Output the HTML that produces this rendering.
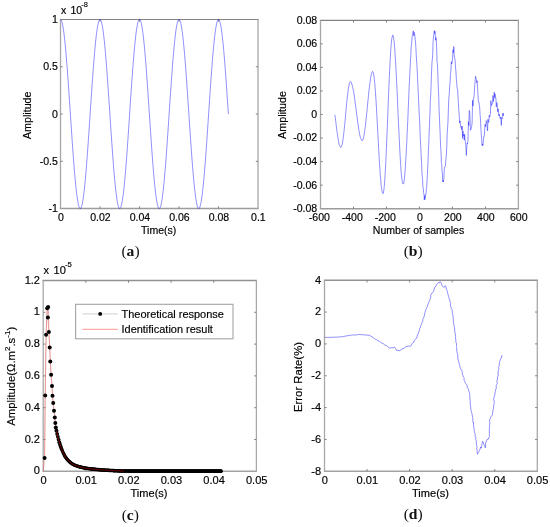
<!DOCTYPE html>
<html lang="en"><head><meta charset="utf-8"><title>Figure</title>
<style>html,body{margin:0;padding:0;background:#fff}body{width:550px;height:527px;overflow:hidden}svg text{font-family:"Liberation Sans",sans-serif;stroke:#000;stroke-width:0.16px}svg text.cap{font-family:"Liberation Serif",serif;stroke:none}</style>
</head><body>
<svg width="550" height="527" viewBox="0 0 550 527" font-family="Liberation Sans, Arial, sans-serif" fill="#000" style="display:block">
<path d="M59.85 19.5 H258.65" stroke="#828282" stroke-width="1.2"/><path d="M59.85 208.6 H258.65" stroke="#9c9c9c" stroke-width="1.5"/><path d="M60.5 19.5 V208.6" stroke="#a6a6a6" stroke-width="1.3"/><path d="M258 19.5 V208.6" stroke="#a6a6a6" stroke-width="1.3"/><path d="M100 19.5 v2.2 M139.5 19.5 v2.2 M179 19.5 v2.2 M218.5 19.5 v2.2 " stroke="#808080" stroke-width="1" fill="none"/><path d="M100 208.6 v-2.2 M139.5 208.6 v-2.2 M179 208.6 v-2.2 M218.5 208.6 v-2.2 " stroke="#808080" stroke-width="1" fill="none"/><path d="M60.5 66.78 h2.2 M60.5 114.05 h2.2 M60.5 161.32 h2.2 " stroke="#808080" stroke-width="1" fill="none"/><path d="M258 66.78 h-2.2 M258 114.05 h-2.2 M258 161.32 h-2.2 " stroke="#808080" stroke-width="1" fill="none"/>
<path d="M60.5 19.5 L60.92 19.71 L61.34 20.35 L61.76 21.4 L62.18 22.87 L62.6 24.74 L63.02 27.02 L63.45 29.69 L63.87 32.73 L64.29 36.14 L64.71 39.9 L65.13 43.99 L65.55 48.39 L65.97 53.08 L66.39 58.05 L66.81 63.27 L67.23 68.72 L67.65 74.37 L68.07 80.2 L68.49 86.18 L68.91 92.29 L69.34 98.49 L69.76 104.76 L70.18 111.07 L70.6 117.4 L71.02 123.71 L71.44 129.98 L71.86 136.18 L72.28 142.27 L72.7 148.25 L73.12 154.06 L73.54 159.7 L73.96 165.14 L74.38 170.35 L74.81 175.3 L75.23 179.98 L75.65 184.36 L76.07 188.43 L76.49 192.17 L76.91 195.56 L77.33 198.58 L77.75 201.22 L78.17 203.48 L78.59 205.33 L79.01 206.77 L79.43 207.8 L79.85 208.41 L80.27 208.6 L80.7 208.36 L81.12 207.7 L81.54 206.63 L81.96 205.13 L82.38 203.23 L82.8 200.93 L83.22 198.24 L83.64 195.18 L84.06 191.75 L84.48 187.97 L84.9 183.86 L85.32 179.44 L85.74 174.73 L86.17 169.75 L86.59 164.51 L87.01 159.05 L87.43 153.39 L87.85 147.55 L88.27 141.56 L88.69 135.45 L89.11 129.25 L89.53 122.97 L89.95 116.66 L90.37 110.33 L90.79 104.02 L91.21 97.75 L91.63 91.56 L92.06 85.47 L92.48 79.51 L92.9 73.7 L93.32 68.07 L93.74 62.65 L94.16 57.46 L94.58 52.52 L95 47.85 L95.42 43.49 L95.84 39.44 L96.26 35.72 L96.68 32.35 L97.1 29.35 L97.53 26.73 L97.95 24.5 L98.37 22.67 L98.79 21.25 L99.21 20.25 L99.63 19.66 L100.05 19.5 L100.47 19.76 L100.89 20.45 L101.31 21.55 L101.73 23.07 L102.15 24.99 L102.57 27.31 L102.99 30.03 L103.42 33.11 L103.84 36.56 L104.26 40.36 L104.68 44.49 L105.1 48.93 L105.52 53.66 L105.94 58.66 L106.36 63.9 L106.78 69.38 L107.2 75.05 L107.62 80.9 L108.04 86.89 L108.46 93.01 L108.89 99.22 L109.31 105.5 L109.73 111.82 L110.15 118.14 L110.57 124.45 L110.99 130.71 L111.41 136.9 L111.83 142.98 L112.25 148.94 L112.67 154.74 L113.09 160.35 L113.51 165.76 L113.93 170.94 L114.35 175.86 L114.78 180.51 L115.2 184.86 L115.62 188.89 L116.04 192.59 L116.46 195.93 L116.88 198.91 L117.3 201.51 L117.72 203.72 L118.14 205.52 L118.56 206.92 L118.98 207.9 L119.4 208.46 L119.82 208.59 L120.24 208.31 L120.67 207.6 L121.09 206.47 L121.51 204.93 L121.93 202.98 L122.35 200.64 L122.77 197.9 L123.19 194.79 L123.61 191.32 L124.03 187.51 L124.45 183.36 L124.87 178.9 L125.29 174.16 L125.71 169.14 L126.14 163.88 L126.56 158.39 L126.98 152.71 L127.4 146.85 L127.82 140.85 L128.24 134.73 L128.66 128.51 L129.08 122.23 L129.5 115.91 L129.92 109.58 L130.34 103.28 L130.76 97.02 L131.18 90.84 L131.6 84.76 L132.03 78.82 L132.45 73.03 L132.87 67.42 L133.29 62.02 L133.71 56.86 L134.13 51.95 L134.55 47.32 L134.97 42.99 L135.39 38.98 L135.81 35.31 L136.23 31.98 L136.65 29.03 L137.07 26.45 L137.5 24.27 L137.92 22.49 L138.34 21.11 L138.76 20.16 L139.18 19.62 L139.6 19.51 L140.02 19.82 L140.44 20.56 L140.86 21.71 L141.28 23.27 L141.7 25.24 L142.12 27.61 L142.54 30.37 L142.96 33.5 L143.39 36.99 L143.81 40.83 L144.23 44.99 L144.65 49.47 L145.07 54.23 L145.49 59.26 L145.91 64.54 L146.33 70.03 L146.75 75.73 L147.17 81.6 L147.59 87.61 L148.01 93.74 L148.43 99.96 L148.86 106.24 L149.28 112.56 L149.7 118.89 L150.12 125.19 L150.54 131.45 L150.96 137.62 L151.38 143.69 L151.8 149.63 L152.22 155.41 L152.64 161 L153.06 166.39 L153.48 171.53 L153.9 176.43 L154.32 181.04 L154.75 185.35 L155.17 189.34 L155.59 193 L156.01 196.3 L156.43 199.24 L156.85 201.79 L157.27 203.95 L157.69 205.71 L158.11 207.05 L158.53 207.98 L158.95 208.49 L159.37 208.58 L159.79 208.25 L160.22 207.49 L160.64 206.31 L161.06 204.72 L161.48 202.73 L161.9 200.33 L162.32 197.56 L162.74 194.4 L163.16 190.89 L163.58 187.03 L164 182.85 L164.42 178.36 L164.84 173.58 L165.26 168.54 L165.68 163.25 L166.11 157.74 L166.53 152.03 L166.95 146.15 L167.37 140.14 L167.79 134 L168.21 127.77 L168.63 121.49 L169.05 115.17 L169.47 108.84 L169.89 102.54 L170.31 96.29 L170.73 90.12 L171.15 84.05 L171.58 78.13 L172 72.36 L172.42 66.77 L172.84 61.4 L173.26 56.27 L173.68 51.39 L174.1 46.8 L174.52 42.51 L174.94 38.53 L175.36 34.9 L175.78 31.61 L176.2 28.7 L176.62 26.17 L177.04 24.04 L177.47 22.3 L177.89 20.98 L178.31 20.07 L178.73 19.59 L179.15 19.53 L179.57 19.89 L179.99 20.67 L180.41 21.87 L180.83 23.48 L181.25 25.5 L181.67 27.92 L182.09 30.72 L182.51 33.89 L182.94 37.43 L183.36 41.3 L183.78 45.5 L184.2 50.01 L184.62 54.81 L185.04 59.87 L185.46 65.17 L185.88 70.69 L186.3 76.41 L186.72 82.3 L187.14 88.32 L187.56 94.46 L187.98 100.69 L188.4 106.98 L188.83 113.31 L189.25 119.63 L189.67 125.93 L190.09 132.18 L190.51 138.34 L190.93 144.4 L191.35 150.32 L191.77 156.08 L192.19 161.65 L192.61 167 L193.03 172.12 L193.45 176.98 L193.87 181.56 L194.3 185.84 L194.72 189.79 L195.14 193.41 L195.56 196.67 L195.98 199.56 L196.4 202.06 L196.82 204.18 L197.24 205.89 L197.66 207.19 L198.08 208.07 L198.5 208.53 L198.92 208.56 L199.34 208.18 L199.76 207.37 L200.19 206.15 L200.61 204.51 L201.03 202.47 L201.45 200.03 L201.87 197.2 L202.29 194.01 L202.71 190.45 L203.13 186.56 L203.55 182.34 L203.97 177.81 L204.39 173 L204.81 167.93 L205.23 162.61 L205.66 157.07 L206.08 151.35 L206.5 145.45 L206.92 139.42 L207.34 133.27 L207.76 127.04 L208.18 120.74 L208.6 114.42 L209.02 108.1 L209.44 101.8 L209.86 95.56 L210.28 89.4 L210.7 83.35 L211.12 77.44 L211.55 71.69 L211.97 66.13 L212.39 60.79 L212.81 55.68 L213.23 50.84 L213.65 46.28 L214.07 42.02 L214.49 38.09 L214.91 34.49 L215.33 31.25 L215.75 28.38 L216.17 25.9 L216.59 23.81 L217.02 22.13 L217.44 20.85 L217.86 19.99 L218.28 19.56 L218.7 19.55 L219.12 19.96 L219.54 20.79 L219.96 22.04 L220.38 23.7 L220.8 25.77 L221.22 28.23 L221.64 31.07 L222.06 34.29 L222.48 37.86 L222.91 41.78 L223.33 46.02 L223.75 50.56 L224.17 55.39 L224.59 60.48 L225.01 65.81 L225.43 71.36 L225.85 77.09 L226.27 83 L226.69 89.04 L227.11 95.19 L227.53 101.43 L227.95 107.73 L228.38 114.05" fill="none" stroke="#2020ff" stroke-width="0.5"/>
<text transform="translate(60.9 220.8) scale(1.04 1)" text-anchor="middle" font-size="10.15" >0</text>
<text transform="translate(100.4 220.8) scale(1.04 1)" text-anchor="middle" font-size="10.15" >0.02</text>
<text transform="translate(139.9 220.8) scale(1.04 1)" text-anchor="middle" font-size="10.15" >0.04</text>
<text transform="translate(179.4 220.8) scale(1.04 1)" text-anchor="middle" font-size="10.15" >0.06</text>
<text transform="translate(218.9 220.8) scale(1.04 1)" text-anchor="middle" font-size="10.15" >0.08</text>
<text transform="translate(258.4 220.8) scale(1.04 1)" text-anchor="middle" font-size="10.15" >0.1</text>
<text transform="translate(57.8 23) scale(1.04 1)" text-anchor="end" font-size="10.15" >1</text>
<text transform="translate(57.8 70.28) scale(1.04 1)" text-anchor="end" font-size="10.15" >0.5</text>
<text transform="translate(57.8 117.55) scale(1.04 1)" text-anchor="end" font-size="10.15" >0</text>
<text transform="translate(57.8 164.82) scale(1.04 1)" text-anchor="end" font-size="10.15" >-0.5</text>
<text transform="translate(57.8 212.1) scale(1.04 1)" text-anchor="end" font-size="10.15" >-1</text>
<text transform="translate(60.9 13.8) scale(1.04 1)" text-anchor="start" font-size="10.15" >x</text>
<text transform="translate(70.4 13.8) scale(1.04 1)" text-anchor="start" font-size="10.15" >10</text>
<text transform="translate(81.3 7) scale(1.04 1)" text-anchor="start" font-size="7.09" >-8</text>
<text transform="translate(158.7 234) scale(1.04 1)" text-anchor="middle" font-size="10.15" >Time(s)</text>
<text transform="translate(31 115.3) rotate(-90) scale(1.04 1)" text-anchor="middle" font-size="10.34">Amplitude</text>
<path d="M319.85 20.3 H519.05" stroke="#828282" stroke-width="1.2"/><path d="M319.85 208.7 H519.05" stroke="#9c9c9c" stroke-width="1.5"/><path d="M320.5 20.3 V208.7" stroke="#a6a6a6" stroke-width="1.3"/><path d="M518.4 20.3 V208.7" stroke="#a6a6a6" stroke-width="1.3"/><path d="M353.48 20.3 v2.2 M386.47 20.3 v2.2 M419.45 20.3 v2.2 M452.43 20.3 v2.2 M485.42 20.3 v2.2 " stroke="#808080" stroke-width="1" fill="none"/><path d="M353.48 208.7 v-2.2 M386.47 208.7 v-2.2 M419.45 208.7 v-2.2 M452.43 208.7 v-2.2 M485.42 208.7 v-2.2 " stroke="#808080" stroke-width="1" fill="none"/><path d="M320.5 43.85 h2.2 M320.5 67.4 h2.2 M320.5 90.95 h2.2 M320.5 114.5 h2.2 M320.5 138.05 h2.2 M320.5 161.6 h2.2 M320.5 185.15 h2.2 " stroke="#808080" stroke-width="1" fill="none"/><path d="M518.4 43.85 h-2.2 M518.4 67.4 h-2.2 M518.4 90.95 h-2.2 M518.4 114.5 h-2.2 M518.4 138.05 h-2.2 M518.4 161.6 h-2.2 M518.4 185.15 h-2.2 " stroke="#808080" stroke-width="1" fill="none"/>
<path d="M334.9 114.76 L335.23 117.35 L335.57 120.13 L335.9 122.54 L336.23 125.6 L336.57 128.23 L336.9 130.81 L337.23 133.15 L337.57 135.53 L337.9 137.57 L338.23 139.34 L338.57 141.74 L338.9 143.07 L339.23 144.56 L339.57 145.33 L339.9 146.1 L340.23 146.69 L340.57 146.87 L340.9 147.5 L341.24 146.87 L341.58 146.24 L341.92 145.42 L342.26 144.35 L342.6 142.33 L342.94 139.95 L343.27 137.57 L343.61 135.09 L343.95 131.94 L344.29 128.61 L344.63 125.32 L344.97 121.99 L345.31 118.61 L345.65 114.3 L345.99 110.76 L346.33 107.1 L346.67 103.25 L347.01 100.16 L347.35 96.92 L347.69 94.36 L348.02 91.37 L348.36 88.23 L348.7 86.95 L349.04 84.97 L349.38 83.29 L349.72 82.5 L350.06 81.89 L350.4 81.63 L350.74 81.92 L351.07 81.82 L351.41 82.8 L351.75 84.12 L352.09 84.88 L352.42 86.18 L352.76 87.63 L353.1 89.34 L353.43 90.64 L353.77 93.02 L354.11 94.16 L354.45 97.12 L354.78 99.23 L355.12 102.54 L355.46 104.89 L355.79 107.17 L356.13 110.19 L356.47 112.17 L356.81 115.12 L357.14 117.71 L357.48 120.01 L357.82 122.77 L358.15 125.45 L358.49 127.11 L358.83 129.63 L359.17 131.4 L359.5 133.61 L359.84 134.99 L360.18 136.64 L360.51 137.72 L360.85 138.68 L361.19 139.16 L361.53 140.31 L361.86 140.11 L362.2 140.55 L362.54 140.45 L362.88 139.63 L363.22 138.98 L363.55 137.94 L363.89 136.16 L364.23 134.14 L364.57 131.59 L364.91 129.34 L365.25 127 L365.59 124.15 L365.93 121 L366.26 118.06 L366.6 114.53 L366.94 111.2 L367.28 107.88 L367.62 104.08 L367.96 100.72 L368.3 97.78 L368.64 94.19 L368.97 90.55 L369.31 87.73 L369.65 85 L369.99 82.48 L370.33 79.85 L370.67 77.45 L371.01 75.69 L371.35 74.42 L371.68 73.14 L372.02 72.1 L372.36 71.64 L372.7 71.42 L373.04 71.98 L373.38 72.7 L373.72 74.7 L374.06 76.95 L374.4 79.89 L374.74 82.79 L375.08 87.45 L375.42 91.56 L375.76 96.75 L376.1 101.87 L376.44 107.37 L376.78 113.73 L377.12 119.91 L377.46 126.15 L377.8 132.61 L378.14 138.8 L378.48 145.1 L378.82 151.38 L379.16 157.76 L379.5 163.24 L379.84 168.33 L380.18 173.51 L380.52 177.82 L380.86 181.74 L381.2 185.59 L381.54 188.22 L381.88 190.28 L382.22 192.08 L382.56 193.28 L382.9 193.63 L383.24 193.38 L383.58 191.61 L383.91 189.61 L384.25 186.48 L384.59 182.25 L384.93 177.65 L385.27 172.04 L385.6 165.55 L385.94 159.13 L386.28 151.32 L386.62 143.82 L386.96 135.7 L387.29 127.43 L387.63 118.67 L387.97 110.26 L388.31 101.73 L388.64 93.63 L388.98 84.88 L389.32 77.54 L389.66 70.12 L390 62.66 L390.33 57.84 L390.67 51.6 L391.01 46.42 L391.35 43.64 L391.69 39.34 L392.02 37.45 L392.36 36.21 L392.7 35.08 L393.04 35.75 L393.37 36.86 L393.71 38.87 L394.04 41.01 L394.38 43.96 L394.71 48.76 L395.05 53.76 L395.38 58.81 L395.72 64.9 L396.05 71.01 L396.39 76.87 L396.73 83.92 L397.06 90.38 L397.4 98.14 L397.73 105.6 L398.07 113.62 L398.4 121.25 L398.74 128.13 L399.07 135.29 L399.41 141.8 L399.75 148.97 L400.08 155.31 L400.42 161.1 L400.75 165.74 L401.09 171.6 L401.42 175.23 L401.76 177.94 L402.09 180.04 L402.43 182.32 L402.76 183.78 L403.1 183.99 L403.44 183.85 L403.77 183.31 L404.11 181.21 L404.44 178.4 L404.78 174.24 L405.11 170.48 L405.45 165.29 L405.78 159.82 L406.12 155.37 L406.45 147.63 L406.79 142.29 L407.13 133.76 L407.46 126.72 L407.8 120.44 L408.13 111.27 L408.47 103.72 L408.8 95.59 L409.14 87.45 L409.47 80.62 L409.81 73.16 L410.15 67.92 L410.48 60.32 L410.82 55.75 L411.15 47.29 L411.49 44.45 L411.82 40.74 L412.16 36.7 L412.49 35.03 L412.83 32.75 L413.16 30.88 L413.5 31.04 L413.84 35.91 L414.18 32.32 L414.51 34.12 L414.85 35.54 L415.19 39.69 L415.53 42.12 L415.87 47.38 L416.21 54.56 L416.54 59.94 L416.88 64.4 L417.22 71.17 L417.56 78.6 L417.9 85.15 L418.24 93.17 L418.57 99.76 L418.91 106.56 L419.25 115.72 L419.59 119.55 L419.93 128.87 L420.26 137.18 L420.6 143.33 L420.94 151.12 L421.28 157.36 L421.62 163.69 L421.96 173.07 L422.29 176.38 L422.63 180.53 L422.97 188.07 L423.31 188.5 L423.65 192.82 L423.99 194.7 L424.32 200.02 L424.66 195.56 L425 199.39 L425.33 197.16 L425.67 194.25 L426 194.41 L426.34 188.86 L426.67 187.6 L427.01 181.29 L427.34 175.73 L427.68 168.51 L428.01 162.4 L428.34 151.34 L428.68 145.63 L429.01 136.28 L429.35 128.71 L429.68 119.41 L430.02 112.28 L430.35 99.26 L430.69 95.34 L431.02 87.53 L431.36 76.08 L431.69 68.66 L432.02 61.98 L432.36 58.92 L432.69 55.09 L433.03 42.63 L433.36 38.22 L433.7 35.31 L434.03 32.84 L434.37 30.62 L434.7 33.66 L435.03 31.34 L435.37 36.87 L435.7 40.28 L436.04 37.58 L436.37 42.17 L436.71 50.18 L437.04 62.16 L437.38 63.15 L437.71 69.78 L438.05 80.09 L438.38 90.09 L438.72 96.53 L439.05 109.1 L439.38 115.81 L439.72 124.95 L440.05 131.33 L440.39 140.74 L440.72 148.28 L441.06 151.75 L441.39 162.38 L441.73 164.34 L442.06 171.97 L442.4 173.14 L442.73 181.87 L443.07 180.53 L443.4 182.02 L443.82 179.46 L444.23 169.49 L444.65 167.16 L445.07 167 L445.48 165.25 L445.9 159.17 L446.32 155.04 L446.73 147.96 L447.15 134.12 L447.57 127.81 L447.98 122.15 L448.4 109.17 L448.82 98.36 L449.23 94.36 L449.65 86.95 L450.07 82.63 L450.48 74.36 L450.9 71.36 L451.32 61.62 L451.73 63.96 L452.15 62.2 L452.57 58.39 L452.98 49.81 L453.4 52.69 L453.82 46.56 L454.23 56.12 L454.65 58.2 L455.07 59.62 L455.48 66.9 L455.9 71.13 L456.32 78.41 L456.73 82.48 L457.15 88.66 L457.57 89.07 L457.98 96.1 L458.4 103.17 L458.82 110.45 L459.23 114.85 L459.65 122.99 L460.07 120.84 L460.48 124.75 L460.9 127.36 L461.32 126.51 L461.73 129.85 L462.15 126.26 L462.57 138.27 L462.98 130.75 L463.4 135.84 L463.82 134.35 L464.23 140.08 L464.65 134.37 L465.07 141.27 L465.48 141.44 L465.9 146.32 L466.32 155.45 L466.73 147.63 L467.15 143.07 L467.57 143.88 L467.98 140.28 L468.4 121.69 L468.82 125.69 L469.23 110.34 L469.65 111.72 L470.07 119.99 L470.48 130.33 L470.9 129.15 L471.32 127.89 L471.73 126.33 L472.15 122.08 L472.57 100.39 L472.98 106.07 L473.4 100.05 L473.82 97.34 L474.23 95.14 L474.65 87.15 L475.07 81.83 L475.48 76.26 L475.9 77.43 L476.32 79.34 L476.73 82.74 L477.15 80.8 L477.57 88.23 L477.98 94.54 L478.4 101.74 L478.82 101.92 L479.23 104.59 L479.65 106.98 L480.07 114.93 L480.48 118.98 L480.9 128.4 L481.32 135.17 L481.73 140.07 L482.15 145.84 L482.57 143.95 L482.98 145.33 L483.4 139.57 L483.82 136.22 L484.23 136.36 L484.65 130.98 L485.07 124.3 L485.48 126.77 L485.9 124.03 L486.32 120.57 L486.73 121.18 L487.15 127.61 L487.57 130.83 L487.98 119.2 L488.4 122.41 L488.82 122.17 L489.23 115.27 L489.65 117.14 L490.07 115.45 L490.48 113.55 L490.9 100.68 L491.32 105.34 L491.73 105.62 L492.15 103.38 L492.57 103.14 L492.98 95.54 L493.4 101.53 L493.82 97.77 L494.23 92.09 L494.65 97.48 L495.07 93.88 L495.48 98.19 L495.9 97.97 L496.32 106.88 L496.73 102.61 L497.15 103.32 L497.57 111.71 L497.98 108.92 L498.4 109.09 L498.82 115.85 L499.23 114.19 L499.65 116.22 L500.07 118.56 L500.48 117.23 L500.9 119.59 L501.32 125.49 L501.73 117.55 L502.15 118.77 L502.57 114.15 L502.98 113.19 L503.4 115.84 L503.5 113.43" fill="none" stroke="#2020ff" stroke-width="0.5" stroke-linejoin="round"/>
<text transform="translate(319.3 220.8) scale(1.04 1)" text-anchor="middle" font-size="10.15" >-600</text>
<text transform="translate(352.28 220.8) scale(1.04 1)" text-anchor="middle" font-size="10.15" >-400</text>
<text transform="translate(385.27 220.8) scale(1.04 1)" text-anchor="middle" font-size="10.15" >-200</text>
<text transform="translate(419.85 220.8) scale(1.04 1)" text-anchor="middle" font-size="10.15" >0</text>
<text transform="translate(452.83 220.8) scale(1.04 1)" text-anchor="middle" font-size="10.15" >200</text>
<text transform="translate(485.82 220.8) scale(1.04 1)" text-anchor="middle" font-size="10.15" >400</text>
<text transform="translate(518.8 220.8) scale(1.04 1)" text-anchor="middle" font-size="10.15" >600</text>
<text transform="translate(317.2 23.7) scale(1.04 1)" text-anchor="end" font-size="10.15" >0.08</text>
<text transform="translate(317.2 47.25) scale(1.04 1)" text-anchor="end" font-size="10.15" >0.06</text>
<text transform="translate(317.2 70.8) scale(1.04 1)" text-anchor="end" font-size="10.15" >0.04</text>
<text transform="translate(317.2 94.35) scale(1.04 1)" text-anchor="end" font-size="10.15" >0.02</text>
<text transform="translate(317.2 117.9) scale(1.04 1)" text-anchor="end" font-size="10.15" >0</text>
<text transform="translate(317.2 141.45) scale(1.04 1)" text-anchor="end" font-size="10.15" >-0.02</text>
<text transform="translate(317.2 165) scale(1.04 1)" text-anchor="end" font-size="10.15" >-0.04</text>
<text transform="translate(317.2 188.55) scale(1.04 1)" text-anchor="end" font-size="10.15" >-0.06</text>
<text transform="translate(317.2 212.1) scale(1.04 1)" text-anchor="end" font-size="10.15" >-0.08</text>
<text transform="translate(418.5 234) scale(1.04 1)" text-anchor="middle" font-size="10.15" >Number of samples</text>
<text transform="translate(285.8 115) rotate(-90) scale(1.04 1)" text-anchor="middle" font-size="10.34">Amplitude</text>
<path d="M42.55 280.5 H257.05" stroke="#929292" stroke-width="1.4"/><path d="M42.55 471.3 H257.05" stroke="#a2a2a2" stroke-width="1.5"/><path d="M43.2 280.5 V471.3" stroke="#a8a8a8" stroke-width="1.3"/><path d="M256.4 280.5 V471.3" stroke="#a8a8a8" stroke-width="1.3"/><path d="M85.84 280.5 v2.2 M128.48 280.5 v2.2 M171.12 280.5 v2.2 M213.76 280.5 v2.2 " stroke="#808080" stroke-width="1" fill="none"/><path d="M85.84 471.3 v-2.2 M128.48 471.3 v-2.2 M171.12 471.3 v-2.2 M213.76 471.3 v-2.2 " stroke="#808080" stroke-width="1" fill="none"/><path d="M43.2 312.3 h2.2 M43.2 344.1 h2.2 M43.2 375.9 h2.2 M43.2 407.7 h2.2 M43.2 439.5 h2.2 " stroke="#808080" stroke-width="1" fill="none"/><path d="M256.4 312.3 h-2.2 M256.4 344.1 h-2.2 M256.4 375.9 h-2.2 M256.4 407.7 h-2.2 M256.4 439.5 h-2.2 " stroke="#808080" stroke-width="1" fill="none"/>
<g id="c-plot">
<path d="M44.6 458.1 L45.2 395.6 L46.1 334.8 L47.2 308.3 L48.15 306.9 L47.9 317.6 L48.9 332 L49.7 347.4 L50.3 361.6 L51.1 374.7 L52 385.9 L52.5 395.7 L53.2 403 L54 410.7 L54.8 417.6 L55.3 423 L55.8 427.6 L56.45 430.73 L57.16 433.91 L57.87 436.83 L58.58 439.61 L59.29 442.19 L60 444.5 L60.71 446.58 L61.42 448.53 L62.13 450.33 L62.84 451.99 L63.55 453.5 L64.26 454.89 L64.97 456.17 L65.68 457.33 L66.39 458.35 L67.1 459.26 L67.81 460.08 L68.52 460.84 L69.23 461.52 L69.94 462.15 L70.65 462.73 L71.36 463.27 L72.07 463.76 L72.78 464.21 L73.49 464.59 L74.2 464.93 L74.91 465.24 L75.62 465.51 L76.33 465.77 L77.04 466.01 L77.75 466.25 L78.46 466.47 L79.17 466.68 L79.88 466.88 L80.59 467.07 L81.3 467.25 L82.01 467.42 L82.72 467.58 L83.43 467.74 L84.14 467.89 L84.85 468.03 L85.56 468.16 L86.27 468.28 L86.98 468.39 L87.69 468.49 L88.4 468.58 L89.11 468.67 L89.82 468.76 L90.53 468.84 L91.24 468.92 L91.95 468.99 L92.66 469.07 L93.37 469.14 L94.08 469.21 L94.79 469.28 L95.5 469.35 L96.21 469.42 L96.92 469.48 L97.63 469.55 L98.34 469.61 L99.05 469.67 L99.76 469.74 L100.47 469.79 L101.18 469.85 L101.89 469.91 L102.6 469.96 L103.31 470.02 L104.02 470.07 L104.73 470.12 L105.44 470.16 L106.15 470.21 L106.86 470.26 L107.57 470.3 L108.28 470.34 L108.99 470.39 L109.7 470.43 L110.41 470.47 L111.12 470.5 L111.83 470.54 L112.54 470.58 L113.25 470.61 L113.96 470.65 L114.67 470.68 L115.38 470.72 L116.09 470.75 L116.8 470.79 L117.51 470.82 L118.22 470.85 L118.93 470.88 L119.64 470.91 L120.35 470.94 L121.06 470.96 L121.77 470.98 L122.48 471 L123.19 471.01 L123.9 471.02 L124.61 471.04 L125.32 471.05 L126.03 471.06 L126.74 471.07 L127.45 471.08 L128.16 471.09 L128.87 471.1 L129.58 471.11 L130.29 471.12 L131 471.13 L131.71 471.14 L132.42 471.14 L133.13 471.15 L133.84 471.15 L134.55 471.15 L135.26 471.15 L135.97 471.15 L136.68 471.15 L137.39 471.15 L138.1 471.15 L138.81 471.15 L139.52 471.15 L140.23 471.15 L140.94 471.15 L141.65 471.15 L142.36 471.15 L143.07 471.15 L143.78 471.15 L144.49 471.15 L145.2 471.15 L145.91 471.15 L146.62 471.15 L147.33 471.15 L148.04 471.15 L148.75 471.15 L149.46 471.15 L150.17 471.15 L150.88 471.15 L151.59 471.15 L152.3 471.15 L153.01 471.15 L153.72 471.15 L154.43 471.15 L155.14 471.15 L155.85 471.15 L156.56 471.15 L157.27 471.15 L157.98 471.15 L158.69 471.15 L159.4 471.15 L160.11 471.15 L160.82 471.15 L161.53 471.15 L162.24 471.15 L162.95 471.15 L163.66 471.15 L164.37 471.15 L165.08 471.15 L165.79 471.15 L166.5 471.15 L167.21 471.15 L167.92 471.15 L168.63 471.15 L169.34 471.15 L170.05 471.15 L170.76 471.15 L171.47 471.15 L172.18 471.15 L172.89 471.15 L173.6 471.15 L174.31 471.15 L175.02 471.15 L175.73 471.15 L176.44 471.15 L177.15 471.15 L177.86 471.15 L178.57 471.15 L179.28 471.15 L179.99 471.15 L180.7 471.15 L181.41 471.15 L182.12 471.15 L182.83 471.15 L183.54 471.15 L184.25 471.15 L184.96 471.15 L185.67 471.15 L186.38 471.15 L187.09 471.15 L187.8 471.15 L188.51 471.15 L189.22 471.15 L189.93 471.15 L190.64 471.15 L191.35 471.15 L192.06 471.15 L192.77 471.15 L193.48 471.15 L194.19 471.15 L194.9 471.15 L195.61 471.15 L196.32 471.15 L197.03 471.15 L197.74 471.15 L198.45 471.15 L199.16 471.15 L199.87 471.15 L200.58 471.15 L201.29 471.15 L202 471.15 L202.71 471.15 L203.42 471.15 L204.13 471.15 L204.84 471.15 L205.55 471.15 L206.26 471.15 L206.97 471.15 L207.68 471.15 L208.39 471.15 L209.1 471.15 L209.81 471.15 L210.52 471.15 L211.23 471.15 L211.94 471.15 L212.65 471.15 L213.36 471.15 L214.07 471.15 L214.78 471.15 L215.49 471.15 L216.2 471.15 L216.91 471.15 L217.62 471.15 L218.33 471.15 L219.04 471.15 L219.75 471.15 L220.46 471.15 L221.17 471.15" fill="none" stroke="#b0b0b0" stroke-width="0.5"/>
<path d="M43.3 471.3 L44.6 458.1 L45.2 395.6 L46.1 334.8 L47.2 308.3 L48.15 306.9 L48.9 332 L49.7 347.4 L50.3 361.6 L51.1 374.7 L52 385.9 L52.5 395.7 L53.2 403 L54 410.7 L54.8 417.6 L55.3 423 L55.8 427.6 L56.45 430.73 L57.16 433.91 L57.87 436.83 L58.58 439.61 L59.29 442.19 L60 444.5 L60.71 446.58 L61.42 448.53 L62.13 450.33 L62.84 451.99 L63.55 453.5 L64.26 454.89 L64.97 456.17 L65.68 457.33 L66.39 458.35 L67.1 459.26 L67.81 460.08 L68.52 460.84 L69.23 461.52 L69.94 462.15 L70.65 462.73 L71.36 463.27 L72.07 463.76 L72.78 464.21 L73.49 464.59 L74.2 464.93 L74.91 465.24 L75.62 465.51 L76.33 465.77 L77.04 466.01 L77.75 466.25 L78.46 466.47 L79.17 466.68 L79.88 466.88 L80.59 467.07 L81.3 467.25 L82.01 467.42 L82.72 467.58 L83.43 467.74 L84.14 467.89 L84.85 468.03 L85.56 468.16 L86.27 468.28 L86.98 468.39 L87.69 468.49 L88.4 468.58 L89.11 468.67 L89.82 468.76 L90.53 468.84 L91.24 468.92 L91.95 468.99 L92.66 469.07 L93.37 469.14 L94.08 469.21 L94.79 469.28 L95.5 469.35 L96.21 469.42 L96.92 469.48 L97.63 469.55 L98.34 469.61 L99.05 469.67 L99.76 469.74 L100.47 469.79 L101.18 469.85 L101.89 469.91 L102.6 469.96 L103.31 470.02 L104.02 470.07 L104.73 470.12 L105.44 470.16 L106.15 470.21 L106.86 470.26 L107.57 470.3 L108.28 470.34 L108.99 470.39 L109.7 470.43 L110.41 470.47 L111.12 470.5 L111.83 470.54 L112.54 470.58 L113.25 470.61 L113.96 470.65 L114.67 470.68 L115.38 470.72 L116.09 470.75 L116.8 470.79 L117.51 470.82 L118.22 470.85 L118.93 470.88 L119.64 470.91 L120.35 470.94 L121.06 470.96 L121.77 470.98 L122.48 471 L123.19 471.01 L123.9 471.02 L124.61 471.04 L125.32 471.05 L126.03 471.06 L126.74 471.07 L127.45 471.08 L128.16 471.09 L128.87 471.1 L129.58 471.11 L130.29 471.12 L131 471.13 L131.71 471.14 L132.42 471.14 L133.13 471.15 L133.84 471.15 L134.55 471.15 L135.26 471.15 L135.97 471.15 L136.68 471.15 L137.39 471.15 L138.1 471.15 L138.81 471.15 L139.52 471.15 L140.23 471.15 L140.94 471.15 L141.65 471.15 L142.36 471.15 L143.07 471.15 L143.78 471.15 L144.49 471.15 L145.2 471.15 L145.91 471.15 L146.62 471.15 L147.33 471.15 L148.04 471.15 L148.75 471.15 L149.46 471.15 L150.17 471.15 L150.88 471.15 L151.59 471.15 L152.3 471.15 L153.01 471.15 L153.72 471.15 L154.43 471.15 L155.14 471.15 L155.85 471.15 L156.56 471.15 L157.27 471.15 L157.98 471.15 L158.69 471.15 L159.4 471.15 L160.11 471.15 L160.82 471.15 L161.53 471.15 L162.24 471.15 L162.95 471.15 L163.66 471.15 L164.37 471.15 L165.08 471.15 L165.79 471.15 L166.5 471.15 L167.21 471.15 L167.92 471.15 L168.63 471.15 L169.34 471.15 L170.05 471.15 L170.76 471.15 L171.47 471.15 L172.18 471.15 L172.89 471.15 L173.6 471.15 L174.31 471.15 L175.02 471.15 L175.73 471.15 L176.44 471.15 L177.15 471.15 L177.86 471.15 L178.57 471.15 L179.28 471.15 L179.99 471.15 L180.7 471.15 L181.41 471.15 L182.12 471.15 L182.83 471.15 L183.54 471.15 L184.25 471.15 L184.96 471.15 L185.67 471.15 L186.38 471.15 L187.09 471.15 L187.8 471.15 L188.51 471.15 L189.22 471.15 L189.93 471.15 L190.64 471.15 L191.35 471.15 L192.06 471.15 L192.77 471.15 L193.48 471.15 L194.19 471.15 L194.9 471.15 L195.61 471.15 L196.32 471.15 L197.03 471.15 L197.74 471.15 L198.45 471.15 L199.16 471.15 L199.87 471.15 L200.58 471.15 L201.29 471.15 L202 471.15 L202.71 471.15 L203.42 471.15 L204.13 471.15 L204.84 471.15 L205.55 471.15 L206.26 471.15 L206.97 471.15 L207.68 471.15 L208.39 471.15 L209.1 471.15 L209.81 471.15 L210.52 471.15 L211.23 471.15 L211.94 471.15 L212.65 471.15 L213.36 471.15 L214.07 471.15 L214.78 471.15 L215.49 471.15 L216.2 471.15 L216.91 471.15 L217.62 471.15 L218.33 471.15 L219.04 471.15 L219.75 471.15 L220.46 471.15 L221.17 471.15" fill="none" stroke="#ff3030" stroke-width="0.42"/>
<g fill="#000"><circle cx="44.6" cy="458.1" r="2"/><circle cx="45.2" cy="395.6" r="2"/><circle cx="46.1" cy="334.8" r="2"/><circle cx="47.2" cy="308.3" r="2"/><circle cx="48.15" cy="306.9" r="2"/><circle cx="47.9" cy="317.6" r="2"/><circle cx="48.9" cy="332" r="2"/><circle cx="49.7" cy="347.4" r="2"/><circle cx="50.3" cy="361.6" r="2"/><circle cx="51.1" cy="374.7" r="2"/><circle cx="52" cy="385.9" r="2"/><circle cx="52.5" cy="395.7" r="2"/><circle cx="53.2" cy="403" r="2"/><circle cx="54" cy="410.7" r="2"/><circle cx="54.8" cy="417.6" r="2"/><circle cx="55.3" cy="423" r="2"/><circle cx="55.8" cy="427.6" r="2"/><circle cx="56.45" cy="430.73" r="2"/><circle cx="57.16" cy="433.91" r="1.9"/><circle cx="57.87" cy="436.83" r="1.9"/><circle cx="58.58" cy="439.61" r="1.9"/><circle cx="59.29" cy="442.19" r="1.9"/><circle cx="60" cy="444.5" r="1.9"/><circle cx="60.71" cy="446.58" r="1.9"/><circle cx="61.42" cy="448.53" r="1.9"/><circle cx="62.13" cy="450.33" r="1.78"/><circle cx="62.84" cy="451.99" r="1.78"/><circle cx="63.55" cy="453.5" r="1.78"/><circle cx="64.26" cy="454.89" r="1.78"/><circle cx="64.97" cy="456.17" r="1.78"/><circle cx="65.68" cy="457.33" r="1.78"/><circle cx="66.39" cy="458.35" r="1.78"/><circle cx="67.1" cy="459.26" r="1.78"/><circle cx="67.81" cy="460.08" r="1.78"/><circle cx="68.52" cy="460.84" r="1.78"/><circle cx="69.23" cy="461.52" r="1.78"/><circle cx="69.94" cy="462.15" r="1.78"/><circle cx="70.65" cy="462.73" r="1.78"/><circle cx="71.36" cy="463.27" r="1.78"/><circle cx="72.07" cy="463.76" r="1.78"/><circle cx="72.78" cy="464.21" r="1.78"/><circle cx="73.49" cy="464.59" r="1.78"/><circle cx="74.2" cy="464.93" r="1.78"/><circle cx="74.91" cy="465.24" r="1.78"/><circle cx="75.62" cy="465.51" r="1.78"/><circle cx="76.33" cy="465.77" r="1.78"/><circle cx="77.04" cy="466.01" r="1.78"/><circle cx="77.75" cy="466.25" r="1.78"/><circle cx="78.46" cy="466.47" r="1.78"/><circle cx="79.17" cy="466.68" r="1.78"/><circle cx="79.88" cy="466.88" r="1.78"/><circle cx="80.59" cy="467.07" r="1.78"/><circle cx="81.3" cy="467.25" r="1.78"/><circle cx="82.01" cy="467.42" r="1.78"/><circle cx="82.72" cy="467.58" r="1.78"/><circle cx="83.43" cy="467.74" r="1.78"/><circle cx="84.14" cy="467.89" r="1.78"/><circle cx="84.85" cy="468.03" r="1.78"/><circle cx="85.56" cy="468.16" r="1.78"/><circle cx="86.27" cy="468.28" r="1.78"/><circle cx="86.98" cy="468.39" r="1.78"/><circle cx="87.69" cy="468.49" r="1.78"/><circle cx="88.4" cy="468.58" r="1.78"/><circle cx="89.11" cy="468.67" r="1.78"/><circle cx="89.82" cy="468.76" r="1.78"/><circle cx="90.53" cy="468.84" r="1.78"/><circle cx="91.24" cy="468.92" r="1.78"/><circle cx="91.95" cy="468.99" r="1.78"/><circle cx="92.66" cy="469.07" r="1.78"/><circle cx="93.37" cy="469.14" r="1.78"/><circle cx="94.08" cy="469.21" r="1.78"/><circle cx="94.79" cy="469.28" r="1.78"/><circle cx="95.5" cy="469.35" r="1.78"/><circle cx="96.21" cy="469.42" r="1.78"/><circle cx="96.92" cy="469.48" r="1.78"/><circle cx="97.63" cy="469.55" r="1.78"/><circle cx="98.34" cy="469.61" r="1.78"/><circle cx="99.05" cy="469.67" r="1.78"/><circle cx="99.76" cy="469.74" r="1.78"/><circle cx="100.47" cy="469.79" r="1.78"/><circle cx="101.18" cy="469.85" r="1.78"/><circle cx="101.89" cy="469.91" r="1.78"/><circle cx="102.6" cy="469.96" r="1.78"/><circle cx="103.31" cy="470.02" r="1.78"/><circle cx="104.02" cy="470.07" r="1.78"/><circle cx="104.73" cy="470.12" r="1.78"/><circle cx="105.44" cy="470.16" r="1.78"/><circle cx="106.15" cy="470.21" r="1.78"/><circle cx="106.86" cy="470.26" r="1.78"/><circle cx="107.57" cy="470.3" r="1.78"/><circle cx="108.28" cy="470.34" r="1.78"/><circle cx="108.99" cy="470.39" r="1.78"/><circle cx="109.7" cy="470.43" r="1.78"/><circle cx="110.41" cy="470.47" r="1.78"/><circle cx="111.12" cy="470.5" r="1.78"/><circle cx="111.83" cy="470.54" r="1.78"/><circle cx="112.54" cy="470.58" r="1.78"/><circle cx="113.25" cy="470.61" r="1.78"/><circle cx="113.96" cy="470.65" r="1.78"/><circle cx="114.67" cy="470.68" r="1.78"/><circle cx="115.38" cy="470.72" r="1.78"/><circle cx="116.09" cy="470.75" r="1.78"/><circle cx="116.8" cy="470.79" r="1.78"/><circle cx="117.51" cy="470.82" r="1.78"/><circle cx="118.22" cy="470.85" r="1.78"/><circle cx="118.93" cy="470.88" r="1.78"/><circle cx="119.64" cy="470.91" r="1.78"/><circle cx="120.35" cy="470.94" r="1.78"/><circle cx="121.06" cy="470.96" r="1.78"/><circle cx="121.77" cy="470.98" r="1.78"/><circle cx="122.48" cy="471" r="1.78"/><circle cx="123.19" cy="471.01" r="1.78"/><circle cx="123.9" cy="471.02" r="1.78"/><circle cx="124.61" cy="471.04" r="1.78"/><circle cx="125.32" cy="471.05" r="1.78"/><circle cx="126.03" cy="471.06" r="1.78"/><circle cx="126.74" cy="471.07" r="1.78"/><circle cx="127.45" cy="471.08" r="1.78"/><circle cx="128.16" cy="471.09" r="1.78"/><circle cx="128.87" cy="471.1" r="1.78"/><circle cx="129.58" cy="471.11" r="1.78"/><circle cx="130.29" cy="471.12" r="1.78"/><circle cx="131" cy="471.13" r="1.78"/><circle cx="131.71" cy="471.14" r="1.78"/><circle cx="132.42" cy="471.14" r="1.78"/><circle cx="133.13" cy="471.15" r="1.78"/><circle cx="133.84" cy="471.15" r="1.78"/><circle cx="134.55" cy="471.15" r="1.78"/><circle cx="135.26" cy="471.15" r="1.78"/><circle cx="135.97" cy="471.15" r="1.78"/><circle cx="136.68" cy="471.15" r="1.78"/><circle cx="137.39" cy="471.15" r="1.78"/><circle cx="138.1" cy="471.15" r="1.78"/><circle cx="138.81" cy="471.15" r="1.78"/><circle cx="139.52" cy="471.15" r="1.78"/><circle cx="140.23" cy="471.15" r="1.78"/><circle cx="140.94" cy="471.15" r="1.78"/><circle cx="141.65" cy="471.15" r="1.78"/><circle cx="142.36" cy="471.15" r="1.78"/><circle cx="143.07" cy="471.15" r="1.78"/><circle cx="143.78" cy="471.15" r="1.78"/><circle cx="144.49" cy="471.15" r="1.78"/><circle cx="145.2" cy="471.15" r="1.78"/><circle cx="145.91" cy="471.15" r="1.78"/><circle cx="146.62" cy="471.15" r="1.78"/><circle cx="147.33" cy="471.15" r="1.78"/><circle cx="148.04" cy="471.15" r="1.78"/><circle cx="148.75" cy="471.15" r="1.78"/><circle cx="149.46" cy="471.15" r="1.78"/><circle cx="150.17" cy="471.15" r="1.78"/><circle cx="150.88" cy="471.15" r="1.78"/><circle cx="151.59" cy="471.15" r="1.78"/><circle cx="152.3" cy="471.15" r="1.78"/><circle cx="153.01" cy="471.15" r="1.78"/><circle cx="153.72" cy="471.15" r="1.78"/><circle cx="154.43" cy="471.15" r="1.78"/><circle cx="155.14" cy="471.15" r="1.78"/><circle cx="155.85" cy="471.15" r="1.78"/><circle cx="156.56" cy="471.15" r="1.78"/><circle cx="157.27" cy="471.15" r="1.78"/><circle cx="157.98" cy="471.15" r="1.78"/><circle cx="158.69" cy="471.15" r="1.78"/><circle cx="159.4" cy="471.15" r="1.78"/><circle cx="160.11" cy="471.15" r="1.78"/><circle cx="160.82" cy="471.15" r="1.78"/><circle cx="161.53" cy="471.15" r="1.78"/><circle cx="162.24" cy="471.15" r="1.78"/><circle cx="162.95" cy="471.15" r="1.78"/><circle cx="163.66" cy="471.15" r="1.78"/><circle cx="164.37" cy="471.15" r="1.78"/><circle cx="165.08" cy="471.15" r="1.78"/><circle cx="165.79" cy="471.15" r="1.78"/><circle cx="166.5" cy="471.15" r="1.78"/><circle cx="167.21" cy="471.15" r="1.78"/><circle cx="167.92" cy="471.15" r="1.78"/><circle cx="168.63" cy="471.15" r="1.78"/><circle cx="169.34" cy="471.15" r="1.78"/><circle cx="170.05" cy="471.15" r="1.78"/><circle cx="170.76" cy="471.15" r="1.78"/><circle cx="171.47" cy="471.15" r="1.78"/><circle cx="172.18" cy="471.15" r="1.78"/><circle cx="172.89" cy="471.15" r="1.78"/><circle cx="173.6" cy="471.15" r="1.78"/><circle cx="174.31" cy="471.15" r="1.78"/><circle cx="175.02" cy="471.15" r="1.78"/><circle cx="175.73" cy="471.15" r="1.78"/><circle cx="176.44" cy="471.15" r="1.78"/><circle cx="177.15" cy="471.15" r="1.78"/><circle cx="177.86" cy="471.15" r="1.78"/><circle cx="178.57" cy="471.15" r="1.78"/><circle cx="179.28" cy="471.15" r="1.78"/><circle cx="179.99" cy="471.15" r="1.78"/><circle cx="180.7" cy="471.15" r="1.78"/><circle cx="181.41" cy="471.15" r="1.78"/><circle cx="182.12" cy="471.15" r="1.78"/><circle cx="182.83" cy="471.15" r="1.78"/><circle cx="183.54" cy="471.15" r="1.78"/><circle cx="184.25" cy="471.15" r="1.78"/><circle cx="184.96" cy="471.15" r="1.78"/><circle cx="185.67" cy="471.15" r="1.78"/><circle cx="186.38" cy="471.15" r="1.78"/><circle cx="187.09" cy="471.15" r="1.78"/><circle cx="187.8" cy="471.15" r="1.78"/><circle cx="188.51" cy="471.15" r="1.78"/><circle cx="189.22" cy="471.15" r="1.78"/><circle cx="189.93" cy="471.15" r="1.78"/><circle cx="190.64" cy="471.15" r="1.78"/><circle cx="191.35" cy="471.15" r="1.78"/><circle cx="192.06" cy="471.15" r="1.78"/><circle cx="192.77" cy="471.15" r="1.78"/><circle cx="193.48" cy="471.15" r="1.78"/><circle cx="194.19" cy="471.15" r="1.78"/><circle cx="194.9" cy="471.15" r="1.78"/><circle cx="195.61" cy="471.15" r="1.78"/><circle cx="196.32" cy="471.15" r="1.78"/><circle cx="197.03" cy="471.15" r="1.78"/><circle cx="197.74" cy="471.15" r="1.78"/><circle cx="198.45" cy="471.15" r="1.78"/><circle cx="199.16" cy="471.15" r="1.78"/><circle cx="199.87" cy="471.15" r="1.78"/><circle cx="200.58" cy="471.15" r="1.78"/><circle cx="201.29" cy="471.15" r="1.78"/><circle cx="202" cy="471.15" r="1.78"/><circle cx="202.71" cy="471.15" r="1.78"/><circle cx="203.42" cy="471.15" r="1.78"/><circle cx="204.13" cy="471.15" r="1.78"/><circle cx="204.84" cy="471.15" r="1.78"/><circle cx="205.55" cy="471.15" r="1.78"/><circle cx="206.26" cy="471.15" r="1.78"/><circle cx="206.97" cy="471.15" r="1.78"/><circle cx="207.68" cy="471.15" r="1.78"/><circle cx="208.39" cy="471.15" r="1.78"/><circle cx="209.1" cy="471.15" r="1.78"/><circle cx="209.81" cy="471.15" r="1.78"/><circle cx="210.52" cy="471.15" r="1.78"/><circle cx="211.23" cy="471.15" r="1.78"/><circle cx="211.94" cy="471.15" r="1.78"/><circle cx="212.65" cy="471.15" r="1.78"/><circle cx="213.36" cy="471.15" r="1.78"/><circle cx="214.07" cy="471.15" r="1.78"/><circle cx="214.78" cy="471.15" r="1.78"/><circle cx="215.49" cy="471.15" r="1.78"/><circle cx="216.2" cy="471.15" r="1.78"/><circle cx="216.91" cy="471.15" r="1.78"/><circle cx="217.62" cy="471.15" r="1.78"/><circle cx="218.33" cy="471.15" r="1.78"/><circle cx="219.04" cy="471.15" r="1.78"/><circle cx="219.75" cy="471.15" r="1.78"/><circle cx="220.46" cy="471.15" r="1.78"/><circle cx="221.17" cy="471.15" r="1.78"/></g>
<path d="M56.45 430.73 L57.16 433.91 L57.87 436.83 L58.58 439.61 L59.29 442.19 L60 444.5 L60.71 446.58 L61.42 448.53 L62.13 450.33 L62.84 451.99 L63.55 453.5 L64.26 454.89 L64.97 456.17 L65.68 457.33 L66.39 458.35 L67.1 459.26 L67.81 460.08 L68.52 460.84 L69.23 461.52 L69.94 462.15 L70.65 462.73 L71.36 463.27 L72.07 463.76 L72.78 464.21 L73.49 464.59 L74.2 464.93 L74.91 465.24 L75.62 465.51 L76.33 465.77 L77.04 466.01 L77.75 466.25 L78.46 466.47 L79.17 466.68 L79.88 466.88 L80.59 467.07 L81.3 467.25 L82.01 467.42 L82.72 467.58 L83.43 467.74 L84.14 467.89 L84.85 468.03 L85.56 468.16 L86.27 468.28 L86.98 468.39 L87.69 468.49 L88.4 468.58 L89.11 468.67 L89.82 468.76 L90.53 468.84 L91.24 468.92 L91.95 468.99 L92.66 469.07 L93.37 469.14 L94.08 469.21 L94.79 469.28 L95.5 469.35 L96.21 469.42 L96.92 469.48 L97.63 469.55 L98.34 469.61 L99.05 469.67 L99.76 469.74 L100.47 469.79 L101.18 469.85 L101.89 469.91 L102.6 469.96 L103.31 470.02 L104.02 470.07 L104.73 470.12 L105.44 470.16 L106.15 470.21 L106.86 470.26 L107.57 470.3 L108.28 470.34 L108.99 470.39 L109.7 470.43 L110.41 470.47 L111.12 470.5 L111.83 470.54 L112.54 470.58 L113.25 470.61 L113.96 470.65 L114.67 470.68 L115.38 470.72 L116.09 470.75 L116.8 470.79 L117.51 470.82 L118.22 470.85 L118.93 470.88 L119.64 470.91 L120.35 470.94 L121.06 470.96 L121.77 470.98 L122.48 471 L123.19 471.01 L123.9 471.02" fill="none" stroke="#c40000" stroke-width="0.8" opacity="0.75"/>
</g>
<text transform="translate(43.5 483.5) scale(1.04 1)" text-anchor="middle" font-size="10.64" >0</text>
<text transform="translate(86.14 483.5) scale(1.04 1)" text-anchor="middle" font-size="10.64" >0.01</text>
<text transform="translate(128.78 483.5) scale(1.04 1)" text-anchor="middle" font-size="10.64" >0.02</text>
<text transform="translate(171.42 483.5) scale(1.04 1)" text-anchor="middle" font-size="10.64" >0.03</text>
<text transform="translate(214.06 483.5) scale(1.04 1)" text-anchor="middle" font-size="10.64" >0.04</text>
<text transform="translate(256.7 483.5) scale(1.04 1)" text-anchor="middle" font-size="10.64" >0.05</text>
<text transform="translate(40 283.5) scale(1.04 1)" text-anchor="end" font-size="10.64" >1.2</text>
<text transform="translate(40 315.3) scale(1.04 1)" text-anchor="end" font-size="10.64" >1</text>
<text transform="translate(40 347.1) scale(1.04 1)" text-anchor="end" font-size="10.64" >0.8</text>
<text transform="translate(40 378.9) scale(1.04 1)" text-anchor="end" font-size="10.64" >0.6</text>
<text transform="translate(40 410.7) scale(1.04 1)" text-anchor="end" font-size="10.64" >0.4</text>
<text transform="translate(40 442.5) scale(1.04 1)" text-anchor="end" font-size="10.64" >0.2</text>
<text transform="translate(40 474.3) scale(1.04 1)" text-anchor="end" font-size="10.64" >0</text>
<text transform="translate(43.5 274.4) scale(1.04 1)" text-anchor="start" font-size="10.64" >x</text>
<text transform="translate(53.6 274.4) scale(1.04 1)" text-anchor="start" font-size="10.64" >10</text>
<text transform="translate(65 267) scale(1.04 1)" text-anchor="start" font-size="7.39" >-5</text>
<text transform="translate(149 497) scale(1.04 1)" text-anchor="middle" font-size="10.64" >Time(s)</text>
<text transform="translate(15 376.3) rotate(-90) scale(1.04 1)" text-anchor="middle" font-size="10.83">Amplitude(Ω.m<tspan dy="-5" font-size="7.8">2</tspan><tspan dy="5">.s</tspan><tspan dy="-5" font-size="7.8">-1</tspan><tspan dy="5">)</tspan></text>
<rect x="75.6" y="304.3" width="157.4" height="34.5" fill="#fff" stroke="#a4a4a4" stroke-width="1.1"/>
<path d="M82.4 313.9 H117.8" stroke="#c4c4c4" stroke-width="0.8"/>
<circle cx="100.2" cy="313.9" r="1.95" fill="#000"/>
<path d="M82.4 329.3 H117.8" stroke="#ff4a4a" stroke-width="0.6"/>
<text transform="translate(121.5 317.6) scale(1.04 1)" text-anchor="start" font-size="10.54" >Theoretical response</text>
<text transform="translate(121.5 332.8) scale(1.04 1)" text-anchor="start" font-size="10.54" >Identification result</text>
<path d="M323.85 280.2 H537.95" stroke="#929292" stroke-width="1.4"/><path d="M323.85 471.3 H537.95" stroke="#a2a2a2" stroke-width="1.5"/><path d="M324.5 280.2 V471.3" stroke="#a8a8a8" stroke-width="1.3"/><path d="M537.3 280.2 V471.3" stroke="#a8a8a8" stroke-width="1.3"/><path d="M367.06 280.2 v2.2 M409.62 280.2 v2.2 M452.18 280.2 v2.2 M494.74 280.2 v2.2 " stroke="#808080" stroke-width="1" fill="none"/><path d="M367.06 471.3 v-2.2 M409.62 471.3 v-2.2 M452.18 471.3 v-2.2 M494.74 471.3 v-2.2 " stroke="#808080" stroke-width="1" fill="none"/><path d="M324.5 312.05 h2.2 M324.5 343.9 h2.2 M324.5 375.75 h2.2 M324.5 407.6 h2.2 M324.5 439.45 h2.2 " stroke="#808080" stroke-width="1" fill="none"/><path d="M537.3 312.05 h-2.2 M537.3 343.9 h-2.2 M537.3 375.75 h-2.2 M537.3 407.6 h-2.2 M537.3 439.45 h-2.2 " stroke="#808080" stroke-width="1" fill="none"/>
<path d="M324.8 337.4 L326.24 337.38 L327.68 337.36 L329.12 337.34 L330.56 337.32 L332 337.3 L333.52 337.24 L335.04 337.18 L336.56 337.12 L338.08 337.06 L339.6 337 L340.95 336.8 L342.3 336.6 L343.65 336.4 L345 336.2 L346.48 335.91 L348 335.64 L349.5 335.4 L350.69 335.32 L351.85 335.02 L353 334.9 L354.46 335.07 L356 335 L357.2 334.71 L358.5 334.4 L359.43 334.51 L360.4 334.6 L361.69 334.56 L362.68 334.86 L364 334.7 L365.3 334.94 L366.55 335.07 L367.95 335.29 L369.1 335.2 L370.52 335.93 L372 336.8 L373.3 337.79 L374.5 338.7 L375.74 339.14 L376.51 340 L378 340.5 L379.44 341.46 L380.9 342.32 L381.92 343.15 L383.3 343.7 L384.35 344.7 L385.47 345.1 L386.5 345.6 L387.64 346.45 L388.42 347.28 L389.8 348.1 L390.45 348.02 L392 347.6 L393.31 348.01 L394.2 347 L395.08 347.64 L395.8 348.8 L396.3 350.27 L397.5 350.3 L399 350.6 L399.51 350.75 L400.7 350.2 L401.3 349.38 L403 348.6 L404.21 348.13 L405.1 347.4 L406.04 346.67 L407 346.6 L408.4 345.9 L409.23 346.5 L410.5 346.3 L411.44 344.97 L412.22 343.4 L413 342.5 L414 341.95 L414.31 340.44 L415.5 339.09 L416 338.3 L417.06 337.58 L417.08 336.04 L418.12 333.83 L418.3 333 L418.97 331.54 L419.3 330.48 L419.76 328.24 L420.4 327.4 L420.58 325.83 L421.58 324.26 L421.91 322.69 L422.78 321.35 L422.8 319.45 L423.5 318 L424.27 316.24 L424.38 314.93 L424.7 313.78 L424.92 312.47 L425.82 309.85 L426.48 308.14 L426.9 307.3 L427.57 306.15 L427.84 304.22 L428.75 302.65 L429.07 301.6 L429.6 300 L430.53 298.36 L430.73 297.57 L430.67 295.57 L431.38 293.5 L432.4 292.8 L433.42 291.68 L433.86 290.3 L434.18 289.03 L434.6 288 L435.1 286.77 L435.9 286.21 L436.5 284.4 L437.35 283.65 L438.3 282.6 L439.3 282.9 L440.2 281.7 L441.2 283 L441.67 284.19 L441.95 285.7 L442.8 286.4 L443.9 287.5 L444.8 286.2 L445.7 285.9 L446.01 287.45 L446.52 289.36 L447 290.5 L447.5 292.03 L447.79 293.69 L448.31 295.28 L448.5 296.6 L449.23 298.72 L449.5 299.02 L450.19 301.88 L450.2 302.5 L450.45 303.67 L450.39 305.49 L450.98 307.25 L450.97 307.89 L451.9 309.2 L452.28 310.4 L452.15 312.02 L452.43 313.14 L452.77 314.42 L453 316 L453.15 317.83 L453.31 319.1 L453.42 320.92 L453.49 322.45 L453.27 323.22 L454.2 325.1 L454 326.99 L454.63 327.54 L454.61 330.08 L454.92 331.25 L454.75 331.91 L455.3 334 L455.62 336.47 L455.53 337.33 L455.62 339.14 L455.92 340.02 L455.76 341.57 L456.4 343.3 L456.57 345.29 L456.38 346.58 L456.71 347.52 L456.7 348.41 L456.77 351.18 L457.2 352 L457.06 353.25 L457.77 354.02 L457.78 356.1 L457.87 358.09 L458 359.2 L458.4 360.67 L459.06 362.58 L459.16 363.83 L459.8 365.5 L460.04 367.57 L460.65 368.7 L461.93 370.53 L462.1 371.8 L462.32 372.79 L462.54 374.75 L463.07 375.68 L463.3 377 L464.28 377.95 L463.91 379.44 L464.4 380.9 L465.17 382.29 L465.78 383.73 L466.7 384.59 L467.3 386 L467.18 387.76 L468.02 388.64 L468.69 389.86 L469.01 391.84 L469.7 393.3 L469.72 395.07 L469.72 396.52 L469.8 398.18 L470.2 400 L470.35 401.52 L470.03 403.19 L470.51 405.37 L470.6 406.6 L470.84 407.87 L470.83 410.3 L471.4 411 L471.45 412.15 L471.94 413.5 L472.3 415.9 L472.74 417.46 L472.8 418.51 L472.76 420.76 L473.3 423.07 L473.55 422.7 L473.5 425 L473.66 426.27 L474.07 427.82 L474.08 429.17 L474.27 431.32 L474.3 432.2 L474.59 432.31 L475.2 434.1 L475.18 436.38 L475.72 437.32 L475.68 439.54 L476.22 440.75 L476.4 442.5 L476.41 444.09 L476.62 446.05 L477.16 446.71 L476.67 449.13 L477.19 450.22 L477.18 452.35 L477.5 454.2 L478.13 452.69 L479 451.6 L479.5 450.4 L480.23 448.75 L480.6 447 L481.3 448.1 L481.59 446.43 L481.65 445.64 L482.03 444.32 L482.31 442.66 L482.5 441.3 L483.09 441.8 L483.45 443.31 L484 444.7 L484.84 445.96 L485.3 447.8 L485.44 446.07 L485.6 445 L485.6 443.2 L486 441.95 L486.56 440.95 L487 439.4 L488.5 439 L488.86 437.69 L489.4 436.4 L489.3 434.3 L489.47 433.16 L489.26 431.93 L489.29 429.91 L489.58 427.24 L489.51 425.61 L489.51 424.82 L490 423.17 L489.6 421.2 L489.51 419.69 L490.54 418.57 L490.5 417.2 L491.91 415.68 L492.5 414.8 L492.57 412.59 L492.83 411.99 L492.92 410.18 L493.47 408.52 L493.6 406.6 L493.65 405.05 L494.35 403.01 L494.15 402.59 L494.21 401.12 L493.51 398.8 L494.07 397.23 L494.5 395.9 L494.83 394.48 L495.03 393.05 L495.24 391.51 L495.94 388.83 L496.4 388 L496.15 385.64 L496.54 384.8 L497.29 383.47 L496.85 380.63 L497.4 380 L497.44 377.96 L497.61 376.84 L498.41 375 L498 375.01 L498.1 372.9 L498.2 370.9 L498.93 368.74 L498.34 367.47 L499.08 366.64 L499.18 365.58 L499.39 363.07 L499.7 361.5 L500.05 360.66 L500.59 358.73 L501.46 358.13 L501.76 355.83 L502 355.1" fill="none" stroke="#2020ff" stroke-width="0.5" stroke-linejoin="round"/>
<text transform="translate(324.8 483.5) scale(1.04 1)" text-anchor="middle" font-size="10.64" >0</text>
<text transform="translate(367.36 483.5) scale(1.04 1)" text-anchor="middle" font-size="10.64" >0.01</text>
<text transform="translate(409.92 483.5) scale(1.04 1)" text-anchor="middle" font-size="10.64" >0.02</text>
<text transform="translate(452.48 483.5) scale(1.04 1)" text-anchor="middle" font-size="10.64" >0.03</text>
<text transform="translate(495.04 483.5) scale(1.04 1)" text-anchor="middle" font-size="10.64" >0.04</text>
<text transform="translate(537.6 483.5) scale(1.04 1)" text-anchor="middle" font-size="10.64" >0.05</text>
<text transform="translate(321.2 283.6) scale(1.04 1)" text-anchor="end" font-size="10.64" >4</text>
<text transform="translate(321.2 315.45) scale(1.04 1)" text-anchor="end" font-size="10.64" >2</text>
<text transform="translate(321.2 347.3) scale(1.04 1)" text-anchor="end" font-size="10.64" >0</text>
<text transform="translate(321.2 379.15) scale(1.04 1)" text-anchor="end" font-size="10.64" >-2</text>
<text transform="translate(321.2 411) scale(1.04 1)" text-anchor="end" font-size="10.64" >-4</text>
<text transform="translate(321.2 442.85) scale(1.04 1)" text-anchor="end" font-size="10.64" >-6</text>
<text transform="translate(321.2 474.7) scale(1.04 1)" text-anchor="end" font-size="10.64" >-8</text>
<text transform="translate(430.5 497) scale(1.04 1)" text-anchor="middle" font-size="10.64" >Time(s)</text>
<text transform="translate(301.8 377) rotate(-90) scale(1.04 1)" text-anchor="middle" font-size="10.93">Error Rate(%)</text>
<text x="130.5" y="256.1" text-anchor="middle" font-size="15.6" class="cap" fill="#111">(<tspan font-weight="bold">a</tspan>)</text>
<text x="413.2" y="256" text-anchor="middle" font-size="15.6" class="cap" fill="#111">(<tspan font-weight="bold">b</tspan>)</text>
<text x="130.3" y="519.7" text-anchor="middle" font-size="15.6" class="cap" fill="#111">(<tspan font-weight="bold">c</tspan>)</text>
<text x="413.2" y="519.3" text-anchor="middle" font-size="15.6" class="cap" fill="#111">(<tspan font-weight="bold">d</tspan>)</text>
</svg>
</body></html>
